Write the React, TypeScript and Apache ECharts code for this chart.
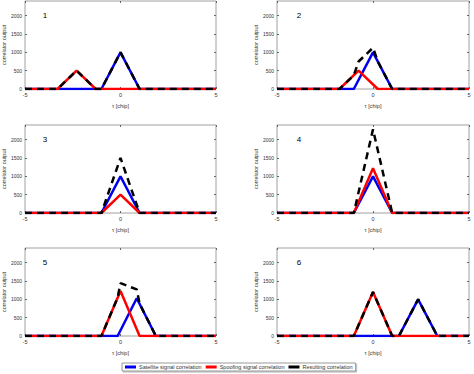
import React, { useEffect, useRef } from "react";
import * as echarts from "echarts";

const xTicks = [-5, 0, 5];
const yTicks = [0, 500, 1000, 1500, 2000];
const panelLabels = ["1", "2", "3", "4", "5", "6"];
const seriesNames = ["Satellite signal correlation", "Spoofing signal correlation", "Resulting correlation"];
const xAxisName = "τ [chip]";
const yAxisName = "correlator output";

const satellite1 = [[-5, 0], [-1, 0], [0, 1000], [1, 0], [5, 0]];
const spoofing1 = [[-5, 0], [-3.3, 0], [-2.3, 500], [-1.3, 0], [5, 0]];
const resulting1 = [[-5, 0], [-3.3, 0], [-2.3, 500], [-1.3, 0], [-1, 0], [0, 1000], [1, 0], [5, 0]];

const satellite2 = [[-5, 0], [-1, 0], [0, 1000], [1, 0], [5, 0]];
const spoofing2 = [[-5, 0], [-1.75, 0], [-0.75, 500], [0.25, 0], [5, 0]];
const resulting2 = [[-5, 0], [-1.75, 0], [-1, 375], [-0.75, 750], [0, 1125], [0.25, 750], [1, 0], [5, 0]];

const satellite3 = [[-5, 0], [-1, 0], [0, 1000], [1, 0], [5, 0]];
const spoofing3 = [[-5, 0], [-1, 0], [0, 500], [1, 0], [5, 0]];
const resulting3 = [[-5, 0], [-1, 0], [0, 1500], [1, 0], [5, 0]];

const satellite4 = [[-5, 0], [-1, 0], [0, 1000], [1, 0], [5, 0]];
const spoofing4 = [[-5, 0], [-1, 0], [0, 1220], [1, 0], [5, 0]];
const resulting4 = [[-5, 0], [-1, 0], [0, 2280], [1, 0], [5, 0]];

const satellite5 = [[-5, 0], [-0.15, 0], [0.85, 1030], [1.85, 0], [5, 0]];
const spoofing5 = [[-5, 0], [-1, 0], [0, 1230], [1, 0], [5, 0]];
const resulting5 = [[-5, 0], [-1, 0], [-0.15, 1050], [0, 1440], [0.85, 1270], [1, 880], [1.85, 0], [5, 0]];

const satellite6 = [[-5, 0], [1.35, 0], [2.35, 1000], [3.35, 0], [5, 0]];
const spoofing6 = [[-5, 0], [-1, 0], [0, 1200], [1, 0], [5, 0]];
const resulting6 = [[-5, 0], [-1, 0], [0, 1200], [1, 0], [1.35, 0], [2.35, 1000], [3.35, 0], [5, 0]];

const panels = [
  [satellite1, spoofing1, resulting1],
  [satellite2, spoofing2, resulting2],
  [satellite3, spoofing3, resulting3],
  [satellite4, spoofing4, resulting4],
  [satellite5, spoofing5, resulting5],
  [satellite6, spoofing6, resulting6],
];

const FONT = "'Liberation Sans', Arial, sans-serif";
const colLeft = [23, 277];
const colWidth = [193, 192];
const rowTop = [1, 125, 248];
const plotHeight = 88;
const colors = ["#0000ee", "#ff0000", "#000000"];
const frame = "#a0a0a0";

export default function App() {
  const ref = useRef<HTMLDivElement>(null);
  useEffect(() => {
    document.body.style.margin = "0";
    const chart = echarts.init(ref.current!, null, { renderer: "svg" });
    const grids: any[] = [];
    const xAxes: any[] = [];
    const yAxes: any[] = [];
    const series: any[] = [];
    const graphics: any[] = [];
    panels.forEach((p, i) => {
      const col = i % 2;
      const row = Math.floor(i / 2);
      grids.push({
        left: colLeft[col],
        top: rowTop[row],
        width: colWidth[col],
        height: plotHeight,
        show: true,
        borderColor: frame,
        borderWidth: 1,
        backgroundColor: "#fff",
      });
      const xBase = {
        type: "value",
        gridIndex: i,
        min: -5,
        max: 5,
        interval: 5,
        splitLine: { show: false },
        axisLine: { show: false, onZero: false },
        axisTick: { show: true, inside: true, length: 2, lineStyle: { color: "#666" } },
      };
      xAxes.push({
        ...xBase,
        position: "bottom",
        name: xAxisName,
        nameLocation: "middle",
        nameGap: 14,
        nameTextStyle: { fontSize: 5.5, color: "#333", fontFamily: FONT },
        axisLabel: { fontSize: 5.5, color: "#333", margin: 3, fontFamily: FONT, customValues: xTicks, formatter: (v: number) => String(v) },
      });
      xAxes.push({ ...xBase, position: "top", axisLabel: { show: false } });
      const yBase = {
        type: "value",
        gridIndex: i,
        min: 0,
        max: 2400,
        interval: 500,
        splitLine: { show: false },
        axisLine: { show: false, onZero: false },
        axisTick: { show: true, inside: true, length: 2, lineStyle: { color: "#666" }, customValues: yTicks },
      };
      yAxes.push({
        ...yBase,
        position: "left",
        name: yAxisName,
        nameLocation: "middle",
        nameGap: 14,
        nameTextStyle: { fontSize: 5.5, color: "#333", fontFamily: FONT },
        axisLabel: { fontSize: 5, color: "#333", margin: 3, fontFamily: FONT, customValues: yTicks, formatter: (v: number) => String(v) },
      });
      yAxes.push({ ...yBase, position: "right", axisLabel: { show: false } });
      p.forEach((data, k) => {
        series.push({
          type: "line",
          name: seriesNames[k],
          xAxisIndex: i * 2,
          yAxisIndex: i * 2,
          data,
          symbol: "none",
          showSymbol: false,
          color: colors[k],
          lineStyle: { width: 2.5, color: colors[k], type: k === 2 ? [7, 5] : "solid" },
          z: 2 + k,
        });
      });
      graphics.push({
        type: "text",
        x: colLeft[col] + 22,
        y: rowTop[row] + 14,
        style: {
          text: panelLabels[i],
          fontSize: 8,
          fill: "#000",
          fontFamily: FONT,
          align: "center",
          verticalAlign: "middle",
        },
      });
    });
    chart.setOption({
      animation: false,
      backgroundColor: "#fff",
      grid: grids,
      xAxis: xAxes,
      yAxis: yAxes,
      series,
      graphic: graphics,
      legend: {
        data: seriesNames,
        left: 122,
        top: 363,
        icon: "rect",
        itemWidth: 11,
        itemHeight: 3,
        itemGap: 4,
        padding: [1, 3],
        borderColor: "#999",
        borderWidth: 1,
        backgroundColor: "#fff",
        shadowColor: "rgba(0,0,0,0.3)",
        shadowOffsetX: 1,
        shadowOffsetY: 1,
        shadowBlur: 1,
        textStyle: { fontSize: 5.5, color: "#333", fontFamily: FONT, padding: [0, 0, 0, -2] },
      },
    });
    return () => chart.dispose();
  }, []);
  return <div ref={ref} style={{ width: 474, height: 374 }} />;
}
